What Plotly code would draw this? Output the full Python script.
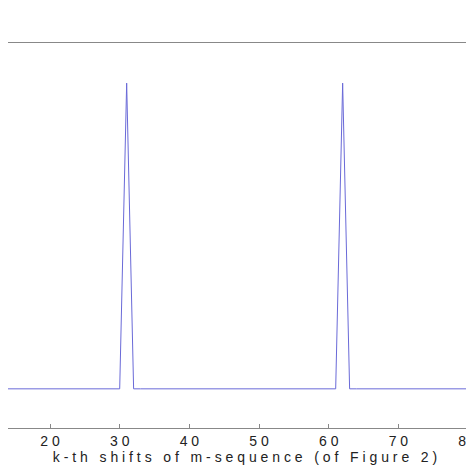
import plotly.graph_objects as go

shifts = list(range(0, 94))
peak_shifts = [0, 31, 62, 93]
corr = [31 if k in peak_shifts else -1 for k in shifts]
x_ticks = [10, 20, 30, 40, 50, 60, 70, 80, 90]
x_tick_text = ["1 0", "2 0", "3 0", "4 0", "5 0", "6 0", "7 0", "8 0", "9 0"]

fig = go.Figure(go.Scatter(x=shifts, y=corr, mode="lines",
                           line=dict(color="#6a6ad8", width=1)))
fig.update_layout(
    width=474, height=474, margin=dict(l=0, r=0, t=35, b=54, pad=0),
    paper_bgcolor="white", plot_bgcolor="white", showlegend=False,
    font=dict(family="Liberation Sans", size=14, color="#222"),
)
fig.update_xaxes(range=[13.97, 82.0], tickvals=x_ticks, ticktext=x_tick_text,
                 ticks="inside", ticklen=4, automargin=False,
                 tickcolor="#888", showline=True, linecolor="#888", mirror=True,
                 showgrid=False, zeroline=False,
                 title=dict(text="k - t h   s h i f t s   o f   m - s e q u e n c e   ( o f   F i g u r e   2 )",
                            standoff=2, font=dict(size=14)))
fig.update_yaxes(range=[-5.1, 35.2], showticklabels=False, ticks="", showline=True,
                 automargin=False,
                 linecolor="#888", mirror=True, showgrid=False, zeroline=False)
fig.write_html("out.html")
